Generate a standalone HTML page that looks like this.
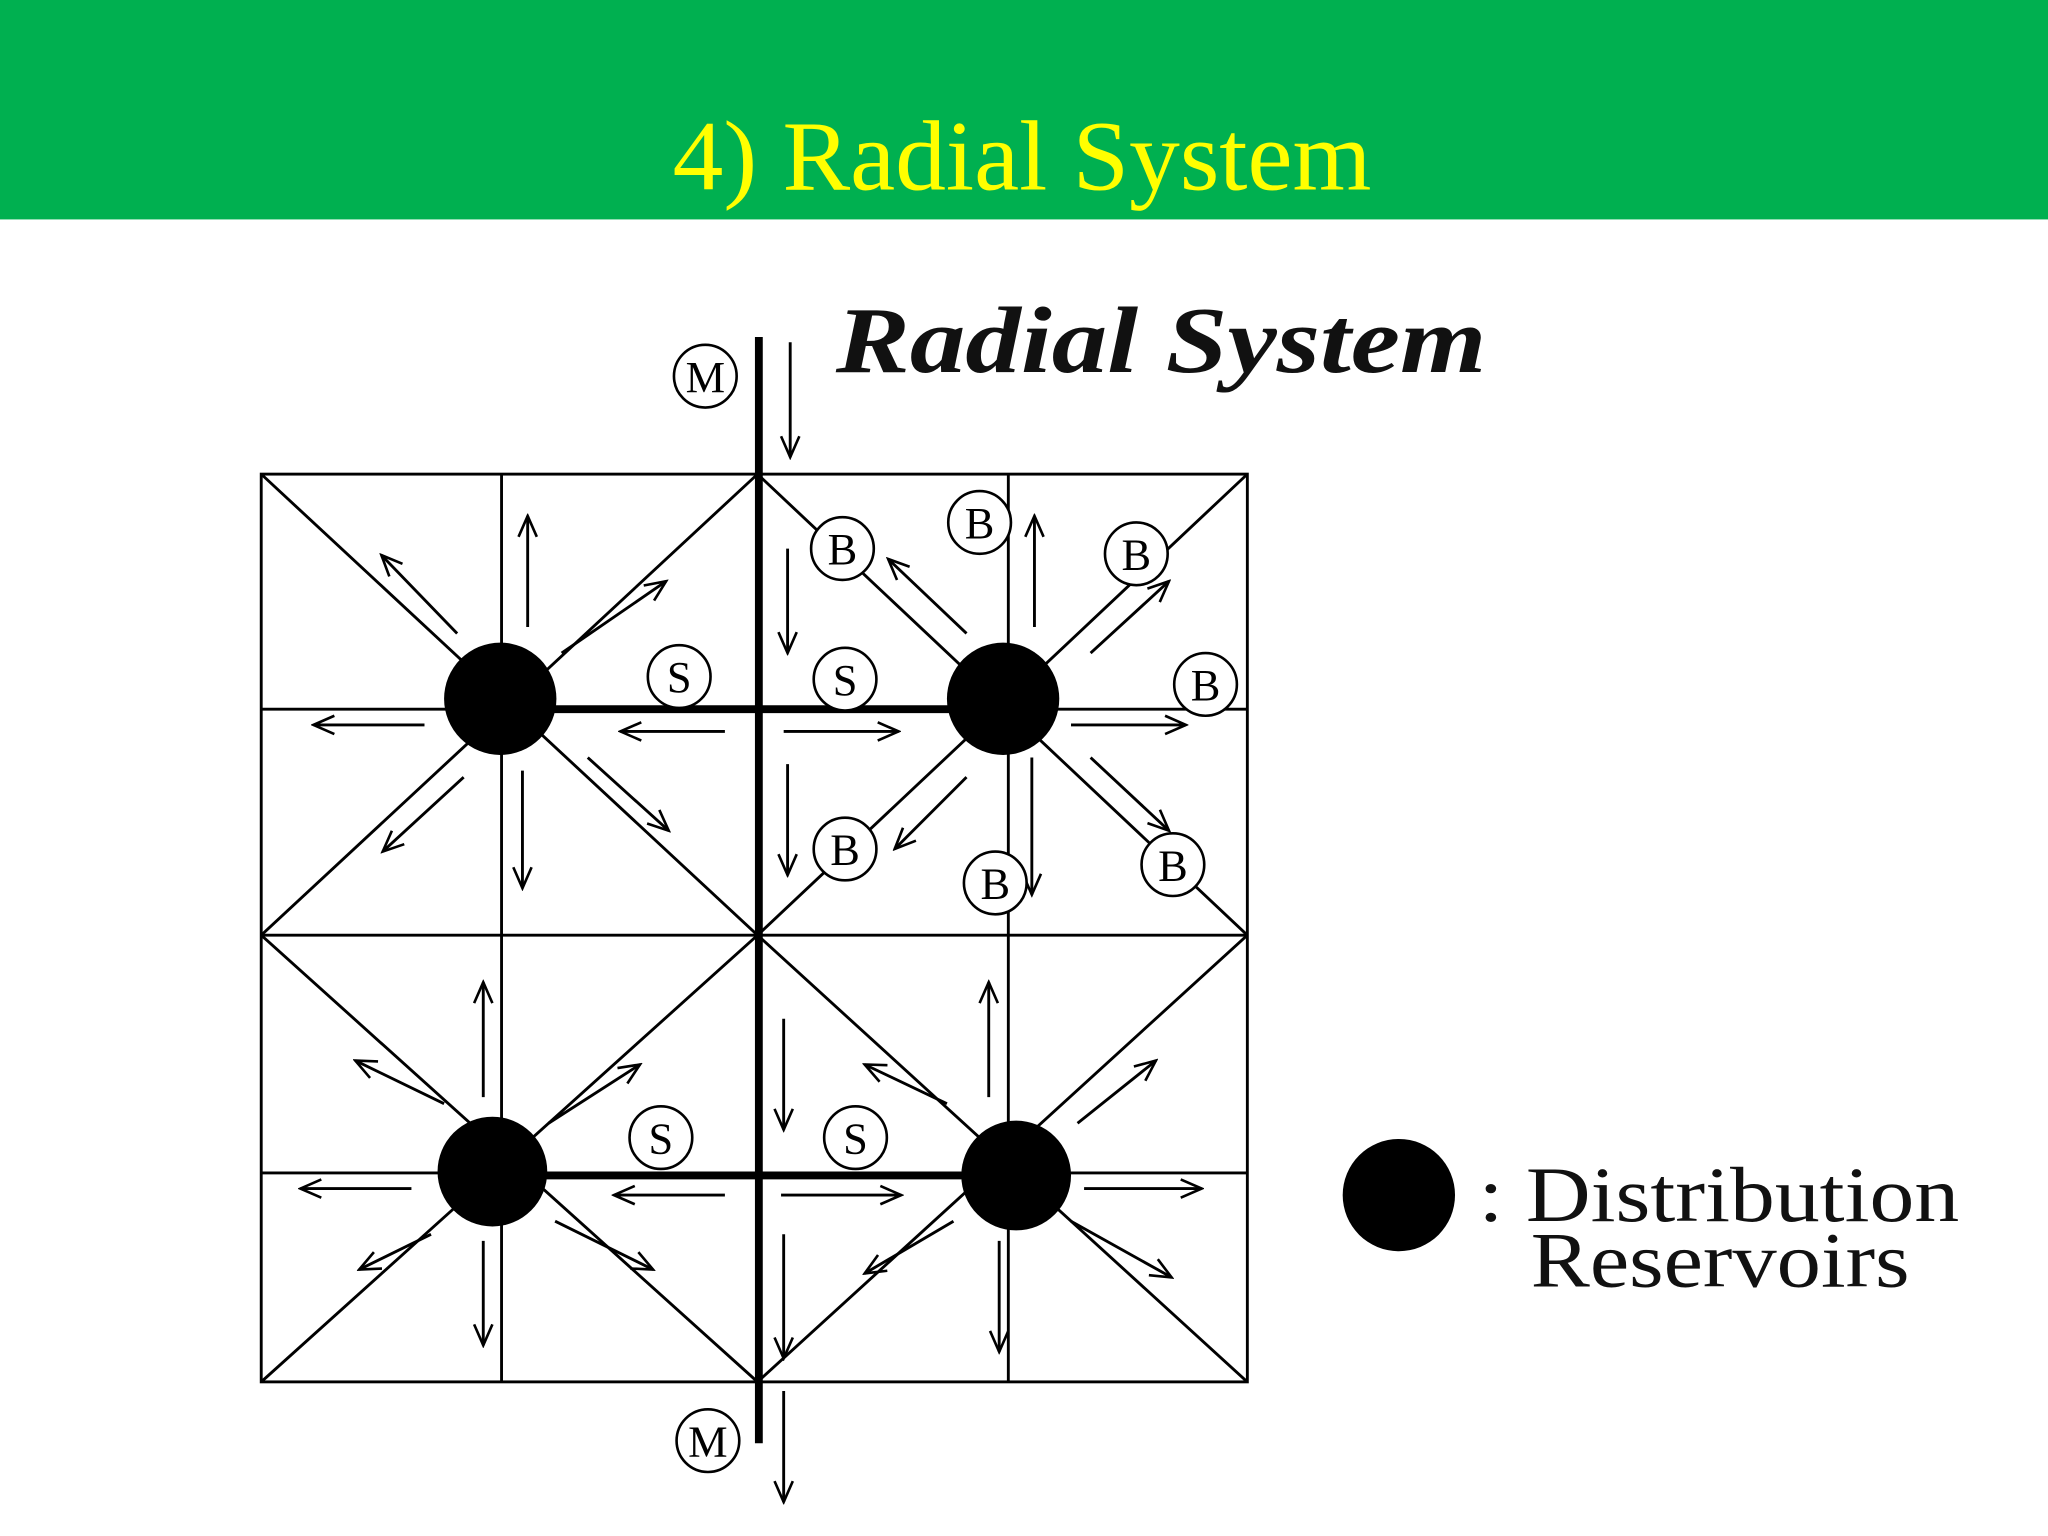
<!DOCTYPE html>
<html><head><meta charset="utf-8"><style>
html,body{margin:0;padding:0;background:#fff;width:2048px;height:1536px;overflow:hidden}
svg{display:block}
</style></head><body>
<svg width="2048" height="1536" viewBox="0 0 1568 1176" xmlns="http://www.w3.org/2000/svg">
<defs>
<marker id="a" viewBox="0 0 20 20" refX="18" refY="10" markerWidth="20" markerHeight="20" markerUnits="userSpaceOnUse" orient="auto">
<path d="M2,3 L18,10 L2,17" fill="none" stroke="#000" stroke-width="2"/>
</marker>
</defs>
<rect x="0" y="0" width="1568" height="168" fill="#00b050"/>
<text x="515" y="145" textLength="535" lengthAdjust="spacingAndGlyphs" font-family="Liberation Serif, serif" font-size="76" fill="#ffff00">4) Radial System</text>
<text x="640" y="285" textLength="498" lengthAdjust="spacingAndGlyphs" font-family="Liberation Serif, serif" font-weight="bold" font-style="italic" font-size="72" fill="#111">Radial System</text>
<g stroke="#000" stroke-width="2.2" fill="none">
<rect x="200" y="363" width="755" height="695"/>
<line x1="384" y1="363" x2="384" y2="1058"/>
<line x1="772" y1="363" x2="772" y2="1058"/>
<line x1="200" y1="543" x2="955" y2="543"/>
<line x1="200" y1="716" x2="955" y2="716"/>
<line x1="200" y1="898" x2="955" y2="898"/>
<line x1="200" y1="363" x2="580" y2="716"/>
<line x1="580" y1="363" x2="200" y2="716"/>
<line x1="580" y1="363" x2="955" y2="716"/>
<line x1="955" y1="363" x2="580" y2="716"/>
<line x1="200" y1="716" x2="580" y2="1058"/>
<line x1="580" y1="716" x2="200" y2="1058"/>
<line x1="580" y1="716" x2="955" y2="1058"/>
<line x1="955" y1="716" x2="580" y2="1058"/>
</g>
<g stroke="#000" stroke-width="6">
<line x1="581" y1="258" x2="581" y2="1105"/>
<line x1="384" y1="543" x2="772" y2="543"/>
<line x1="378" y1="900" x2="778" y2="900"/>
</g>
<g fill="#000">
<circle cx="383" cy="535" r="43"/>
<circle cx="768" cy="535" r="43"/>
<circle cx="377" cy="897" r="42"/>
<circle cx="778" cy="900" r="42"/>
<circle cx="1071" cy="915" r="43"/>
</g>
<g stroke="#000" stroke-width="2.2" fill="none" marker-end="url(#a)">
<line x1="605" y1="262" x2="605" y2="350"/>
<line x1="600" y1="1065" x2="600" y2="1150"/>
<line x1="404" y1="480" x2="404" y2="395"/>
<line x1="400" y1="590" x2="400" y2="680"/>
<line x1="325" y1="555" x2="240" y2="555"/>
<line x1="555" y1="560" x2="475" y2="560"/>
<line x1="350" y1="485" x2="292" y2="425"/>
<line x1="430" y1="500" x2="510" y2="445"/>
<line x1="355" y1="595" x2="293" y2="652"/>
<line x1="450" y1="580" x2="512" y2="636"/>
<line x1="792" y1="480" x2="792" y2="395"/>
<line x1="790" y1="580" x2="790" y2="685"/>
<line x1="820" y1="555" x2="908" y2="555"/>
<line x1="600" y1="560" x2="688" y2="560"/>
<line x1="740" y1="485" x2="680" y2="428"/>
<line x1="835" y1="500" x2="895" y2="445"/>
<line x1="740" y1="595" x2="685" y2="650"/>
<line x1="835" y1="580" x2="895" y2="636"/>
<line x1="603" y1="420" x2="603" y2="500"/>
<line x1="603" y1="585" x2="603" y2="670"/>
<line x1="370" y1="840" x2="370" y2="752"/>
<line x1="370" y1="950" x2="370" y2="1030"/>
<line x1="315" y1="910" x2="230" y2="910"/>
<line x1="555" y1="915" x2="470" y2="915"/>
<line x1="340" y1="845" x2="272" y2="812"/>
<line x1="420" y1="860" x2="490" y2="815"/>
<line x1="330" y1="945" x2="275" y2="972"/>
<line x1="425" y1="935" x2="500" y2="972"/>
<line x1="757" y1="840" x2="757" y2="752"/>
<line x1="765" y1="950" x2="765" y2="1035"/>
<line x1="830" y1="910" x2="920" y2="910"/>
<line x1="598" y1="915" x2="690" y2="915"/>
<line x1="725" y1="845" x2="662" y2="815"/>
<line x1="825" y1="860" x2="885" y2="812"/>
<line x1="730" y1="935" x2="662" y2="975"/>
<line x1="820" y1="935" x2="897" y2="978"/>
<line x1="600" y1="780" x2="600" y2="865"/>
<line x1="600" y1="945" x2="600" y2="1040"/>
</g>
<g font-family="Liberation Serif, serif" font-size="34" text-anchor="middle" fill="#000">
<g fill="#fff" stroke="#000" stroke-width="2">
<circle cx="540" cy="288" r="24"/><circle cx="542" cy="1103" r="24"/>
<circle cx="520" cy="518" r="24"/><circle cx="647" cy="520" r="24"/><circle cx="506" cy="871" r="24"/><circle cx="655" cy="871" r="24"/>
<circle cx="645" cy="420" r="24"/><circle cx="750" cy="400" r="24"/><circle cx="870" cy="424" r="24"/><circle cx="923" cy="524" r="24"/><circle cx="647" cy="650" r="24"/><circle cx="762" cy="676" r="24"/><circle cx="898" cy="662" r="24"/>
</g>
<text x="540" y="300">M</text><text x="542" y="1115">M</text>
<text x="520" y="530">S</text><text x="647" y="532">S</text><text x="506" y="883">S</text><text x="655" y="883">S</text>
<text x="645" y="432">B</text><text x="750" y="412">B</text><text x="870" y="436">B</text><text x="923" y="536">B</text><text x="647" y="662">B</text><text x="762" y="688">B</text><text x="898" y="674">B</text>
</g>
<text x="1132" y="935" textLength="368" lengthAdjust="spacingAndGlyphs" font-family="Liberation Serif, serif" font-size="60" fill="#111">: Distribution</text>
<text x="1172" y="985" textLength="290" lengthAdjust="spacingAndGlyphs" font-family="Liberation Serif, serif" font-size="60" fill="#111">Reservoirs</text>
</svg>
</body></html>
